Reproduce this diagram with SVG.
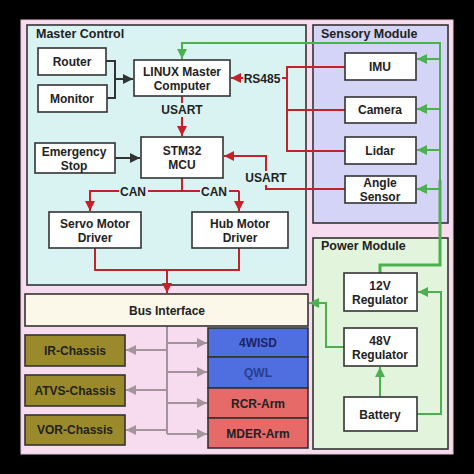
<svg xmlns="http://www.w3.org/2000/svg" width="474" height="474" viewBox="0 0 474 474">
<defs>
<style>
text{font-family:"Liberation Sans",Arial,sans-serif;font-weight:700;fill:#222;font-size:12px;text-anchor:middle}
.title{text-anchor:start;font-size:12.5px}
.box{fill:#fff;stroke:#333;stroke-width:1.6}
.red{fill:none;stroke:#c4212b;stroke-width:2}
.grn{fill:none;stroke:#4cb050;stroke-width:2}
.gry{fill:none;stroke:#a3949c;stroke-width:2}
.blk{fill:none;stroke:#333;stroke-width:2}
</style>
<marker id="ar" markerUnits="userSpaceOnUse" markerWidth="12" markerHeight="12" refX="10" refY="5" orient="auto"><path d="M0,0 L10,5 L0,10 z" fill="#c4212b"/></marker>
<marker id="ag" markerUnits="userSpaceOnUse" markerWidth="12" markerHeight="12" refX="10" refY="5" orient="auto"><path d="M0,0 L10,5 L0,10 z" fill="#4cb050"/></marker>
<marker id="ay" markerUnits="userSpaceOnUse" markerWidth="12" markerHeight="12" refX="10" refY="5" orient="auto"><path d="M0,0 L10,5 L0,10 z" fill="#a3949c"/></marker>
<marker id="ak" markerUnits="userSpaceOnUse" markerWidth="12" markerHeight="12" refX="10" refY="5" orient="auto"><path d="M0,0 L10,5 L0,10 z" fill="#333"/></marker>
</defs>
<rect x="0" y="0" width="474" height="474" fill="#000"/>
<rect x="21" y="20" width="432" height="434" fill="#f7dcef" stroke="#e8c8dc" stroke-width="1"/>

<g id="master-control">
<rect x="27" y="25" width="279" height="260" fill="#d9f3f3" stroke="#333" stroke-width="1.6"/>
<text class="title" x="36" y="38">Master Control</text>
</g>
<g id="sensory-module">
<rect x="313" y="25" width="135" height="198" fill="#d4d4f6" stroke="#333" stroke-width="1.6"/>
<text class="title" x="321" y="38">Sensory Module</text>
</g>
<g id="power-module">
<rect x="313" y="238" width="135" height="211" fill="#e3f4dd" stroke="#333" stroke-width="1.6"/>
<text class="title" x="321" y="250">Power Module</text>
</g>

<g id="connectors">
<path class="blk" d="M106,61 H115 V98 H107"/>
<path class="blk" d="M115,79 H133" marker-end="url(#ak)"/>
<path class="blk" d="M115,158 H140" marker-end="url(#ak)"/>
<path class="red" d="M182,96 V136" marker-end="url(#ar)"/>
<path class="red" d="M182,178 V191"/>
<path class="red" d="M239,191 H90 V211" marker-end="url(#ar)"/>
<path class="red" d="M239,191 V211" marker-end="url(#ar)"/>
<path class="red" d="M95,248 V270 H239 V248"/>
<path class="red" d="M167,270 V293" marker-end="url(#ar)"/>
<path class="red" d="M345,67 H287 V151 H345"/>
<path class="red" d="M287,110 H345"/>
<path class="red" d="M287,78 H231" marker-end="url(#ar)"/>
<path class="red" d="M345,189 H266 V156 H224" marker-end="url(#ar)"/>
<path class="grn" d="M440,265 V43 H182 V59" marker-end="url(#ag)"/>
<path class="grn" style="stroke-width:3" d="M440,180 V265 H380 V273"/>
<path class="grn" d="M440,59 H417" marker-end="url(#ag)"/>
<path class="grn" d="M440,109 H417" marker-end="url(#ag)"/>
<path class="grn" d="M440,150 H417" marker-end="url(#ag)"/>
<path class="grn" d="M440,189 H417" marker-end="url(#ag)"/>
<path class="grn" d="M417,414 H441 V292 H418" marker-end="url(#ag)"/>
<path class="grn" d="M380,397 V367" marker-end="url(#ag)"/>
<path class="grn" d="M344,347 H326 V303 H309" marker-end="url(#ag)"/>
<path class="gry" d="M167,326 V434"/>
<path class="gry" d="M167,350 H126" marker-end="url(#ay)"/>
<path class="gry" d="M167,390 H126" marker-end="url(#ay)"/>
<path class="gry" d="M167,430 H126" marker-end="url(#ay)"/>
<path class="gry" d="M167,343 H207" marker-end="url(#ay)"/>
<path class="gry" d="M167,372 H207" marker-end="url(#ay)"/>
<path class="gry" d="M167,403 H207" marker-end="url(#ay)"/>
<path class="gry" d="M167,434 H207" marker-end="url(#ay)"/>
<rect x="162" y="103" width="40" height="14" fill="#d9f3f3"/>
<text x="182" y="114">USART</text>
<rect x="119" y="185" width="29" height="13" fill="#d9f3f3"/>
<text x="133" y="196">CAN</text>
<rect x="200" y="185" width="29" height="13" fill="#d9f3f3"/>
<text x="214" y="196">CAN</text>
<rect x="243" y="72" width="39" height="13" fill="#d9f3f3"/>
<text x="262" y="83">RS485</text>
<rect x="246" y="171" width="40" height="14" fill="#d9f3f3"/>
<text x="266" y="182">USART</text>
</g>

<g id="router"><rect class="box" x="38" y="48" width="68" height="27"/><text x="72" y="66">Router</text></g>
<g id="monitor"><rect class="box" x="38" y="85" width="69" height="27"/><text x="72" y="103">Monitor</text></g>
<g id="linux"><rect class="box" x="134" y="60" width="96" height="36"/><text x="182" y="76">LINUX Master</text><text x="182" y="90">Computer</text></g>
<g id="stm32"><rect class="box" x="141" y="137" width="82" height="41"/><text x="182" y="155">STM32</text><text x="182" y="169">MCU</text></g>
<g id="estop"><rect class="box" x="35" y="143" width="80" height="30"/><text x="74" y="156">Emergency</text><text x="74" y="170">Stop</text></g>
<g id="servo"><rect class="box" x="49" y="212" width="92" height="36"/><text x="95" y="228">Servo Motor</text><text x="95" y="242">Driver</text></g>
<g id="hub"><rect class="box" x="192" y="212" width="96" height="36"/><text x="240" y="228">Hub Motor</text><text x="240" y="242">Driver</text></g>

<g id="imu"><rect class="box" x="345" y="53" width="71" height="27"/><text x="380" y="71">IMU</text></g>
<g id="camera"><rect class="box" x="345" y="97" width="71" height="26"/><text x="380" y="114">Camera</text></g>
<g id="lidar"><rect class="box" x="345" y="137" width="71" height="27"/><text x="380" y="155">Lidar</text></g>
<g id="angle"><rect class="box" x="345" y="176" width="71" height="27"/><text x="380" y="187">Angle</text><text x="380" y="201">Sensor</text></g>

<g id="reg12"><rect class="box" x="344" y="273" width="73" height="38"/><text x="380" y="290">12V</text><text x="380" y="304">Regulator</text></g>
<g id="reg48"><rect class="box" x="344" y="328" width="73" height="38"/><text x="380" y="345">48V</text><text x="380" y="359">Regulator</text></g>
<g id="battery"><rect class="box" x="344" y="397" width="73" height="34"/><text x="380" y="419">Battery</text></g>

<g id="bus-interface"><rect x="25" y="294" width="283" height="32" fill="#fbf8ea" stroke="#333" stroke-width="1.6"/><text x="167" y="315">Bus Interface</text></g>

<g id="ir-chassis"><rect x="25" y="335" width="100" height="31" fill="#9b8a2b" stroke="#333" stroke-width="1.6"/><text x="75" y="355">IR-Chassis</text></g>
<g id="atvs-chassis"><rect x="25" y="375" width="100" height="31" fill="#9b8a2b" stroke="#333" stroke-width="1.6"/><text x="75" y="395">ATVS-Chassis</text></g>
<g id="vor-chassis"><rect x="25" y="415" width="100" height="30" fill="#9b8a2b" stroke="#333" stroke-width="1.6"/><text x="75" y="434">VOR-Chassis</text></g>

<g id="4wisd"><rect x="208" y="328" width="100" height="29" fill="#4f6ee0" stroke="#333" stroke-width="1.6"/><text x="258" y="347" style="fill:#1c2566">4WISD</text></g>
<g id="qwl"><rect x="208" y="357" width="100" height="31" fill="#4f6ee0" stroke="#333" stroke-width="1.6"/><text x="258" y="377" style="fill:#2b3e8c">QWL</text></g>
<g id="rcr-arm"><rect x="208" y="388" width="100" height="30" fill="#e66a68" stroke="#333" stroke-width="1.6"/><text x="258" y="408">RCR-Arm</text></g>
<g id="mder-arm"><rect x="208" y="418" width="100" height="30" fill="#e66a68" stroke="#333" stroke-width="1.6"/><text x="258" y="438">MDER-Arm</text></g>
</svg>
